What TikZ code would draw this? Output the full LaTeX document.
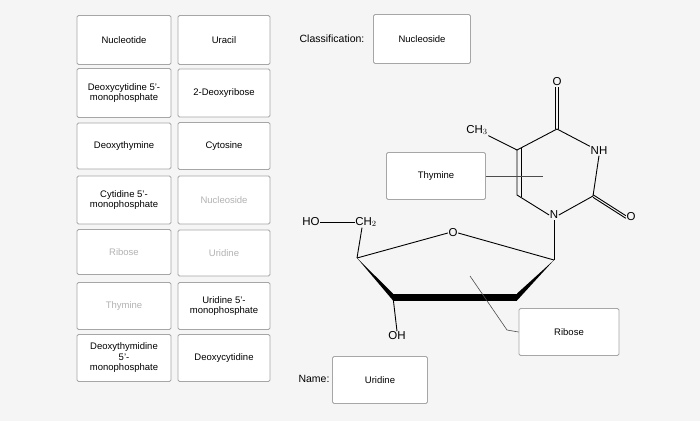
\documentclass[tikz,border=0pt]{standalone}
\usepackage{fontspec}
\setmainfont{Liberation Sans}
\begin{document}
\begin{tikzpicture}[x=1pt,y=-1pt,
  box/.style={draw=gray!70,rounded corners=1.5pt,line width=0.8pt,fill=white,align=center,font=\fontsize{9.5}{10.5}\selectfont,inner sep=0pt},
  faded/.style={text=gray!60},
  bond/.style={line width=0.9pt},
  lbl/.style={font=\fontsize{11.5}{12}\selectfont,inner sep=0.5pt,fill=none}]
\useasboundingbox[fill=gray!8] (0,0) rectangle (700,421);
% column 1
\node[box,minimum width=94,minimum height=49] (n1) at (124,40) {Nucleotide};
\node[box,minimum width=94,minimum height=49] (n2) at (124,93) {Deoxycytidine 5'-\\monophosphate};
\node[box,minimum width=94,minimum height=46] (n3) at (124,146) {Deoxythymine};
\node[box,minimum width=94,minimum height=48] (n4) at (124,200) {Cytidine 5'-\\monophosphate};
\node[box,faded,minimum width=94,minimum height=45] (n5) at (124,252) {Ribose};
\node[box,faded,minimum width=94,minimum height=47] (n6) at (124,306) {Thymine};
\node[box,minimum width=94,minimum height=47] (n7) at (124,358) {Deoxythymidine\\5'-\\monophosphate};
% column 2
\node[box,minimum width=92,minimum height=49] (m1) at (224,40) {Uracil};
\node[box,minimum width=92,minimum height=48] (m2) at (224,93) {2-Deoxyribose};
\node[box,minimum width=92,minimum height=47] (m3) at (224,146) {Cytosine};
\node[box,faded,minimum width=92,minimum height=48] (m4) at (224,200) {Nucleoside};
\node[box,faded,minimum width=92,minimum height=46] (m5) at (224,253) {Uridine};
\node[box,minimum width=92,minimum height=47] (m6) at (224,306) {Uridine 5'-\\monophosphate};
\node[box,minimum width=92,minimum height=47] (m7) at (224,358) {Deoxycytidine};
% classification / name
\node[font=\fontsize{10.5}{11}\selectfont] (cl) at (332,39) {Classification:};
\node[box,minimum width=97,minimum height=49] (cb) at (422,39) {Nucleoside};
\node[font=\fontsize{10.5}{11}\selectfont] (nm) at (314,379) {Name:};
\node[box,minimum width=95,minimum height=47] (nb) at (380,380) {Uridine};
% thymine ring
\coordinate (c5) at (517,150);
\coordinate (c4) at (557,129);
\coordinate (c6) at (517,195);
\coordinate (c2) at (593,196);
\node[lbl] (o4) at (557,82) {O};
\node[lbl] (nh) at (599,151) {NH};
\node[lbl] (o2) at (631,217) {O};
\node[lbl] (n1r) at (554,215) {N};
\node[lbl] (ch3) at (477,130) {CH$_3$};
\draw[bond] (ch3.south east) -- (c5) -- (c4);
\draw[bond] ([xshift=-1.5pt]c4) -- ([xshift=-1.5pt]o4.south);
\draw[bond] ([xshift=1.5pt]c4) -- ([xshift=1.5pt]o4.south);
\draw[bond] (c4) -- (nh.north west);
\draw[bond] (nh.south) -- (c2);
\draw[bond] (c2) -- (n1r.east);
\draw[bond] ([yshift=-1.3pt]c2) -- ([yshift=-1.3pt]o2.west);
\draw[bond] ([yshift=1.3pt]c2) -- ([yshift=1.3pt]o2.west);
\draw[bond] (n1r.west) -- (c6) -- (c5);
\draw[bond] ([xshift=4pt,yshift=2pt]c5) -- ([xshift=4pt,yshift=-2pt]c6);
% sugar
\coordinate (c1s) at (554,260);
\coordinate (c2s) at (517,297);
\coordinate (c3s) at (393,297);
\coordinate (c4s) at (357,258);
\node[lbl] (os) at (453,233) {O};
\node[lbl] (ch2) at (366,222) {CH$_2$};
\node[lbl] (ho) at (311,222) {HO};
\node[lbl] (oh) at (397,336) {OH};
\draw[bond] (ho.east) -- (ch2.west);
\draw[bond] ([xshift=-4pt]ch2.south) -- (c4s);
\draw[bond] (c4s) -- (os.west);
\draw[bond] (os.east) -- (c1s);
\draw[bond] (c1s) -- (n1r.south);
\fill (c4s) -- ([yshift=-3.5pt]c3s) -- ([yshift=3.5pt]c3s) -- cycle;
\fill ([yshift=-3.5pt]c3s) -- ([yshift=-3.5pt]c2s) -- ([yshift=3.5pt]c2s) -- ([yshift=3.5pt]c3s) -- cycle;
\fill (c1s) -- ([yshift=-3.5pt]c2s) -- ([yshift=3.5pt]c2s) -- cycle;
\draw[bond] (c3s) -- (oh.north);
% labels on structure
\node[box,minimum width=99,minimum height=47] (tb) at (436,176) {Thymine};
\coordinate (tt) at (543,176);
\draw[gray!60!black,line width=0.6pt] (tb.east) -- (tt);
\node[box,minimum width=100,minimum height=47] (rb) at (569,332) {Ribose};
\coordinate (rk) at (507,330);
\coordinate (rt) at (470,276);
\draw[gray!60!black,line width=0.6pt] (rb.west) -- (rk) -- (rt);
\end{tikzpicture}
\end{document}
